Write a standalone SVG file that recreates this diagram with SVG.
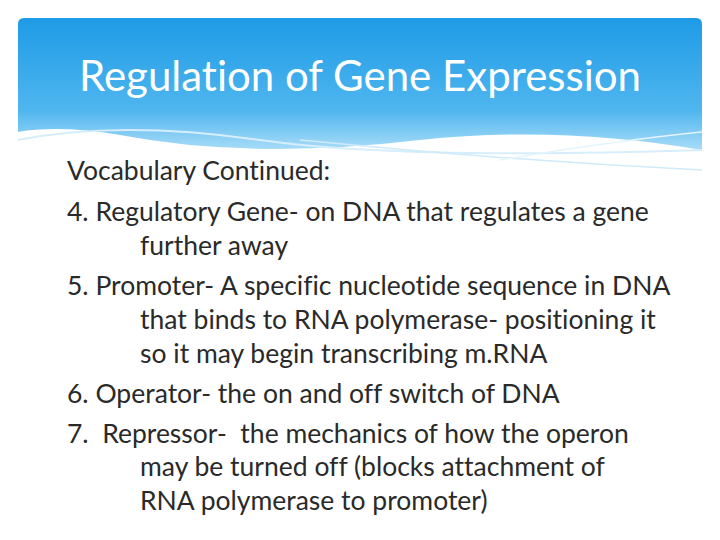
<svg xmlns="http://www.w3.org/2000/svg" width="720" height="540" viewBox="0 0 720 540">
<defs>
<linearGradient id="hg" x1="0" y1="0" x2="0" y2="1">
<stop offset="0" stop-color="#1e9be6"/><stop offset="0.7" stop-color="#4fb6ef"/><stop offset="1" stop-color="#a9dcf7"/>
</linearGradient>
<style>
text{font-variant-ligatures:none;font-feature-settings:"liga" 0,"clig" 0,"dlig" 0}
.b{font-family:Lato,"Open Sans",sans-serif;font-size:26.5px;fill:#2a2a2a}
</style>
</defs>
<rect width="720" height="540" fill="#fff"/>
<g id="header">
<path d="M18,24 Q18,18 24,18 H696 Q702,18 702,24 V150 Q560,125 420,140 Q250,160 120,135 Q60,125 18,132 Z" fill="url(#hg)"/>
<path d="M18,140 Q120,120 260,140 Q400,160 702,150" fill="none" stroke="#d6eefb" stroke-width="2"/>
<path d="M300,140 Q500,160 702,170" fill="none" stroke="#cfeafa" stroke-width="1.5"/>
<path d="M500,160 Q620,140 702,132" fill="none" stroke="#e4f4fd" stroke-width="1.5"/>
<text x="360" y="91" text-anchor="middle" font-family="Lato,'Open Sans',sans-serif" font-size="42" fill="#fff">Regulation of Gene Expression</text>
</g>
<g id="body">
<text class="b" x="67" y="180">Vocabulary Continued:</text>
<text class="b" x="67" y="221">4. Regulatory Gene- on DNA that regulates a gene</text>
<text class="b" x="140" y="255">further away</text>
<text class="b" x="67" y="295">5. Promoter- A specific nucleotide sequence in DNA</text>
<text class="b" x="140" y="329">that binds to RNA polymerase- positioning it</text>
<text class="b" x="140" y="363">so it may begin transcribing m.RNA</text>
<text class="b" x="67" y="403">6. Operator- the on and off switch of DNA</text>
<text class="b" x="67" y="443">7.&#160; Repressor-&#160; the mechanics of how the operon</text>
<text class="b" x="140" y="476">may be turned off (blocks attachment of</text>
<text class="b" x="140" y="510">RNA polymerase to promoter)</text>
</g>
</svg>
